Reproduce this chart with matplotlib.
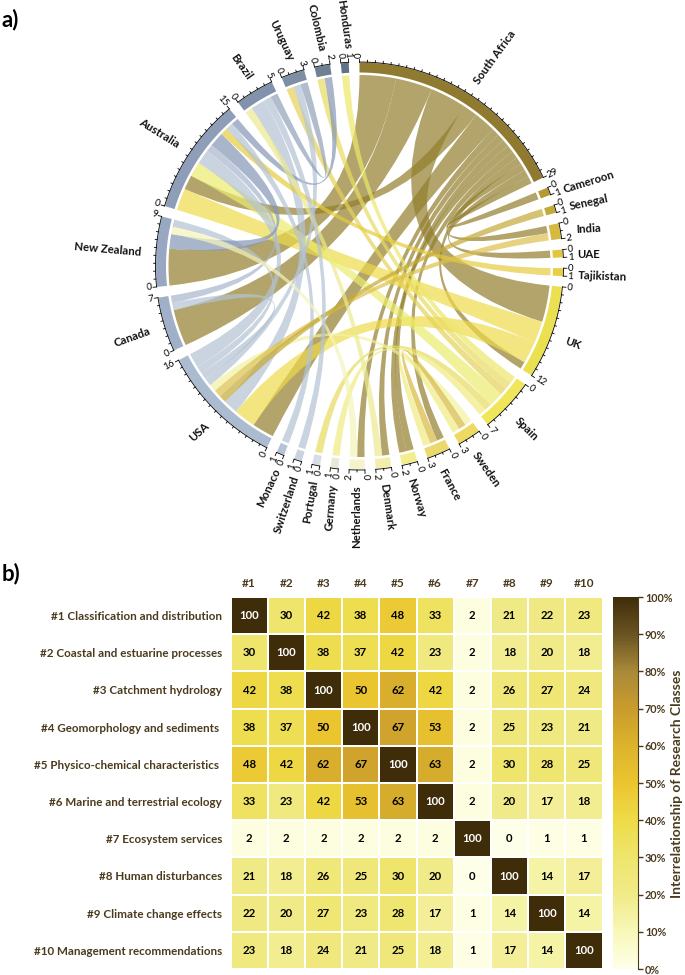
import numpy as np
import matplotlib
matplotlib.use("Agg")
import matplotlib.pyplot as plt
from matplotlib.path import Path
from matplotlib.patches import PathPatch
from matplotlib.colors import LinearSegmentedColormap

plt.rcParams['font.family'] = ['Lato', 'DejaVu Sans']

# chord diagram data, clockwise from the top
countries = ["South Africa", "Cameroon", "Senegal", "India", "UAE", "Tajikistan", "UK", "Spain",
             "Sweden", "France", "Norway", "Denmark", "Netherlands", "Germany", "Portugal",
             "Switzerland", "Monaco", "USA", "Canada", "New Zealand", "Australia", "Brazil",
             "Uruguay", "Colombia", "Honduras"]
totals = [29, 1, 1, 2, 1, 1, 12, 7, 3, 3, 2, 2, 2, 1, 1, 1, 1, 16, 7, 9, 15, 5, 3, 2, 1]

link_a = ["South Africa"] * 14 + ["UK", "UK", "Spain", "Spain", "Spain", "Spain", "Spain", "Spain",
          "USA", "USA", "USA", "USA", "USA", "USA",
          "Canada", "New Zealand", "Tajikistan", "Australia", "Australia",
          "India", "Senegal", "Brazil", "New Zealand", "Brazil", "Uruguay", "Sweden", "Sweden"]
link_b = ["New Zealand", "Canada", "USA", "Australia", "Netherlands", "Denmark", "Norway", "France",
          "UK", "UK", "India", "UAE", "Cameroon", "Norway",
          "Australia", "USA", "Honduras", "Colombia", "Uruguay", "Australia", "Portugal", "Germany",
          "Brazil", "Sweden", "Uruguay", "Canada", "New Zealand", "Australia",
          "Australia", "Australia", "Australia", "Monaco", "Colombia",
          "USA", "USA", "Denmark", "Netherlands", "Switzerland", "Brazil", "France", "France"]
link_val = [5, 5, 3, 2, 1, 1, 1, 1, 5, 1, 1, 1, 1, 1,
            3, 3, 1, 1, 1, 2, 1, 1,
            2, 1, 1, 1, 1, 2,
            1, 2, 1, 1, 1,
            1, 1, 1, 1, 1, 1, 1, 1]

# clockwise order of the ribbons inside each country
order = {
    "South Africa": ["New Zealand", "Canada", "UK", "Australia", "USA", "Netherlands", "Denmark", "Norway",
                     "Norway", "France", "UK", "India", "UAE", "Cameroon"],
    "Cameroon": ["South Africa"],
    "Senegal": ["USA"],
    "India": ["South Africa", "USA"],
    "UAE": ["South Africa"],
    "Tajikistan": ["Australia"],
    "UK": ["South Africa", "Australia", "USA", "South Africa"],
    "Spain": ["Honduras", "Colombia", "Uruguay", "Australia", "Portugal", "Germany"],
    "Sweden": ["USA", "France", "France"],
    "France": ["South Africa", "Sweden", "Sweden"],
    "Norway": ["South Africa", "South Africa"],
    "Denmark": ["South Africa", "Brazil"],
    "Netherlands": ["South Africa", "New Zealand"],
    "Germany": ["Spain"],
    "Portugal": ["Spain"],
    "Switzerland": ["Brazil"],
    "Monaco": ["Australia"],
    "USA": ["South Africa", "UK", "Brazil", "Senegal", "India", "Sweden", "Uruguay", "Canada", "New Zealand",
            "Australia"],
    "Canada": ["South Africa", "USA", "Australia"],
    "New Zealand": ["South Africa", "Australia", "Netherlands", "USA"],
    "Australia": ["UK", "South Africa", "Spain", "USA", "Canada", "New Zealand", "Tajikistan", "Monaco",
                  "Colombia"],
    "Brazil": ["Denmark", "USA", "Switzerland", "Uruguay"],
    "Uruguay": ["Spain", "USA", "Brazil"],
    "Colombia": ["Spain", "Australia"],
    "Honduras": ["Spain"],
}

band_colors = ["#8f7a30", "#b49a30", "#c4aa38", "#d6b93f", "#e3c63f", "#e8cf45", "#ebe04f", "#f0e65a",
               "#eeda60", "#ecd96c", "#f2ee90", "#f2efac", "#f5f2cc", "#e6e8d8", "#d8dde5",
               "#cbd3e0", "#b6c3d5", "#acbcd0", "#a0b0c8", "#98a8c2", "#8e9eb8", "#8292aa",
               "#7e8ea4", "#708094", "#5f7288"]

olive = "#927e2c"
uk_col = "#eeda49"
spain_col = "#ecec6f"
usa_col = "#b4c3d3"
aus_col = "#8496b4"
link_col = [olive] * 14 + [uk_col, uk_col, "#ece86a", "#e8dc60", "#e6d258", spain_col, "#e8dc60", "#f0ec80",
            usa_col, "#f2f2a0", usa_col, usa_col, usa_col, usa_col,
            "#a8b6cc", aus_col, "#e4cc3c", usa_col, aus_col,
            "#dcc04c", "#c4aa38", "#ecea90", "#f4f4b8", usa_col, "#90a0b8", "#d8b840", "#f0ec80"]

# heat map data
classes = ["#1 Classification and distribution", "#2 Coastal and estuarine processes",
           "#3 Catchment hydrology", "#4 Geomorphology and sediments ",
           "#5 Physico-chemical characteristics ", "#6 Marine and terrestrial ecology",
           "#7 Ecosystem services", "#8 Human disturbances", "#9 Climate change effects",
           "#10 Management recommendations"]
col_labels = ["#1", "#2", "#3", "#4", "#5", "#6", "#7", "#8", "#9", "#10"]
matrix = np.array([
    [100, 30, 42, 38, 48, 33, 2, 21, 22, 23],
    [30, 100, 38, 37, 42, 23, 2, 18, 20, 18],
    [42, 38, 100, 50, 62, 42, 2, 26, 27, 24],
    [38, 37, 50, 100, 67, 53, 2, 25, 23, 21],
    [48, 42, 62, 67, 100, 63, 2, 30, 28, 25],
    [33, 23, 42, 53, 63, 100, 2, 20, 17, 18],
    [2, 2, 2, 2, 2, 2, 100, 0, 1, 1],
    [21, 18, 26, 25, 30, 20, 0, 100, 14, 17],
    [22, 20, 27, 23, 28, 17, 1, 14, 100, 14],
    [23, 18, 24, 21, 25, 18, 1, 17, 14, 100],
])
bar_ticks = [0, 10, 20, 30, 40, 50, 60, 70, 80, 90, 100]

# country name placement in pixels, same order as countries
name_x = [495, 589, 589, 588, 589, 603, 573, 527, 486, 449, 416, 387, 357, 331, 310, 287, 269,
          199, 132, 108, 159, 241, 281, 316, 344]
name_y = [57, 182, 203, 229, 255, 276, 343, 429, 470, 485, 498, 507, 517, 507, 502, 504, 488,
          432, 337, 249, 133, 67, 40, 28, 24]
name_rot = [54, 17, 12, 3, 0, -2, -20, -45, -55, -62, -73, -82, 90, 85, 80, 72, 65,
            42, 20, -5, -32, -55, -65, -77, -82]

dark = "#4a3b1e"
W, H = 685, 975
fig = plt.figure(figsize=(W / 100, H / 100), dpi=100)

# full figure axes in pixels for the chord part
ax = fig.add_axes([0, 0, 1, 1])
ax.set_xlim(0, W)
ax.set_ylim(H, 0)
ax.axis("off")

cx, cy = 359.5, 266
r_out = 203.5
r_in = 193.5
r_rib = 191
unit = 2.217
gap = (360 - sum(totals) * unit) / len(totals)


def pt(angle, r):
    a = np.radians(angle)
    return cx + r * np.cos(a), cy - r * np.sin(a)


# sectors
starts = {}
angle = 90.0
for name, total, col in zip(countries, totals, band_colors):
    starts[name] = angle
    end = angle - total * unit
    a = np.linspace(angle, end, 40)
    xo, yo = pt(a, r_out)
    xi, yi = pt(a[::-1], r_in)
    ax.fill(np.r_[xo, xi], np.r_[yo, yi], color=col, lw=0)
    xl, yl = pt(a, r_out + 0.5)
    ax.plot(xl, yl, color="black", lw=0.6)
    # ticks and labels
    for v in range(total + 1):
        t = angle - v * unit
        major = v == 0 or v == total
        x1, y1 = pt(t, r_out + 0.5)
        x2, y2 = pt(t, r_out + (4 if major else 2.5))
        ax.plot([x1, x2], [y1, y2], color="black", lw=0.6)
        if major:
            tx, ty = pt(t, r_out + 5)
            right_side = np.cos(np.radians(t)) >= 0
            rot = t if right_side else t - 180
            ax.text(tx, ty, str(v), fontsize=7, ha="left" if right_side else "right", va="center",
                    rotation=rot, rotation_mode="anchor", color="black")
    angle = end - gap

for name, x, y, rot in zip(countries, name_x, name_y, name_rot):
    ax.text(x, y, name, fontsize=8.2, fontweight="bold", ha="center", va="center", rotation=rot,
            rotation_mode="anchor", color="#111111")

# where each ribbon lands in each sector
ends = {}
for name in countries:
    pos = starts[name]
    used = set()
    for partner in order[name]:
        for i in range(len(link_a)):
            if i in used:
                continue
            if (link_a[i] == name and link_b[i] == partner) or (link_b[i] == name and link_a[i] == partner):
                used.add(i)
                ends[(i, name)] = (pos, pos - link_val[i] * unit)
                pos = pos - link_val[i] * unit
                break

for i in range(len(link_a)):
    a1, a2 = ends[(i, link_a[i])]
    b1, b2 = ends[(i, link_b[i])]
    arc_a = np.linspace(a1, a2, 12)
    arc_b = np.linspace(b1, b2, 12)
    verts = [pt(t, r_rib) for t in arc_a]
    codes = [Path.MOVETO] + [Path.LINETO] * 11
    verts += [(cx, cy), pt(arc_b[0], r_rib)]
    codes += [Path.CURVE3, Path.CURVE3]
    verts += [pt(t, r_rib) for t in arc_b[1:]]
    codes += [Path.LINETO] * 11
    verts += [(cx, cy), pt(arc_a[0], r_rib)]
    codes += [Path.CURVE3, Path.CURVE3]
    ax.add_patch(PathPatch(Path(verts, codes), facecolor=link_col[i], edgecolor="none", alpha=0.7))

ax.text(2, 20, "a)", fontsize=16, fontweight="bold", va="center", color="black")
ax.text(2, 574, "b)", fontsize=16, fontweight="bold", va="center", color="black")

# heat map
cmap = LinearSegmentedColormap.from_list("gold", [
    (0.0, "#feffe8"), (0.10, "#f8f8b8"), (0.20, "#f0ea88"), (0.30, "#efe56c"), (0.40, "#eedb48"),
    (0.50, "#ebc530"), (0.60, "#dcb32c"), (0.70, "#c99c2c"), (0.80, "#a98a38"), (0.90, "#6b5422"),
    (1.0, "#3f2d0a")])

left, right, top, bottom = 230.5, 602.5, 597, 969
ax2 = fig.add_axes([left / W, 1 - bottom / H, (right - left) / W, (bottom - top) / H])
mesh = ax2.pcolormesh(matrix, cmap=cmap, vmin=0, vmax=100, edgecolors="white", linewidth=1.3)
ax2.set_ylim(10, 0)
ax2.set_xlim(0, 10)
ax2.xaxis.tick_top()
ax2.set_xticks(np.arange(10) + 0.5)
ax2.set_xticklabels(col_labels, fontsize=8.5, fontweight="bold", color=dark)
ax2.set_yticks(np.arange(10) + 0.5)
ax2.set_yticklabels(classes, fontsize=8.4, fontweight="bold", color=dark)
ax2.tick_params(length=0, pad=6)
for s in ax2.spines.values():
    s.set_visible(False)
for i in range(10):
    for j in range(10):
        c = "white" if matrix[i, j] == 100 else "black"
        ax2.text(j + 0.5, i + 0.5, str(matrix[i, j]), ha="center", va="center", fontsize=8.2,
                 fontweight="bold", color=c)

# color bar
cax = fig.add_axes([613 / W, 1 - bottom / H, 25 / W, (bottom - top) / H])
cb = fig.colorbar(mesh, cax=cax)
cb.set_ticks(bar_ticks)
cb.set_ticklabels([str(t) + "%" for t in bar_ticks])
cb.ax.tick_params(labelsize=7.8, length=3.5, width=1, color=dark, labelcolor=dark, pad=1.5)
for lab in cb.ax.get_yticklabels():
    lab.set_fontweight("bold")
cb.outline.set_visible(False)
cb.ax.spines["right"].set_visible(True)
cb.ax.spines["right"].set_color(dark)
ax.text(677, 784, "Interrelationship of Research Classes", rotation=90, fontsize=10, fontweight="bold",
        color=dark, ha="center", va="center")

fig.savefig("out.png", dpi=100)
